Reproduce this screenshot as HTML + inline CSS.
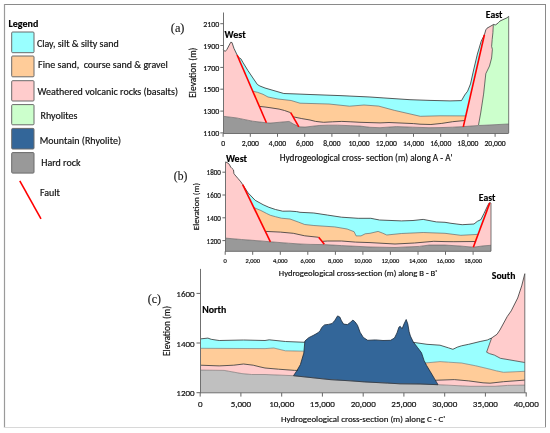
<!DOCTYPE html>
<html><head><meta charset="utf-8"><title>Hydrogeological cross-sections</title>
<style>
html,body{margin:0;padding:0;background:#fff;width:550px;height:433px;overflow:hidden}
svg{display:block}
text{font-family:Carlito,"Liberation Sans",sans-serif;fill:#111;stroke:#111;stroke-width:0.18px}
text.b{font-weight:bold;fill:#000;stroke:#000;stroke-width:0.15px}
text.s{font-family:"Liberation Serif","Times New Roman",serif;fill:#111;stroke:#111;stroke-width:0.12px}
</style></head>
<body>
<svg width="550" height="433" viewBox="0 0 550 433">
<rect width="550" height="433" fill="#fff"/>
<line x1="4" y1="4.5" x2="546" y2="4.5" stroke="#8a8a8a" stroke-width="1"/>
<line x1="4.5" y1="4" x2="4.5" y2="428" stroke="#9a9a9a" stroke-width="1.2"/>
<line x1="545.5" y1="4" x2="545.5" y2="427" stroke="#8a8a8a" stroke-width="1"/>
<line x1="4" y1="427.5" x2="546" y2="427.5" stroke="#d8d8d8" stroke-width="1"/>
<text x="8.6" y="27.1" class="b" font-size="10" textLength="29.67" lengthAdjust="spacingAndGlyphs">Legend</text>
<rect x="11.7" y="32" width="22.3" height="20.7" rx="1" fill="#99ffff" stroke="#6a6a6a" stroke-width="1"/>
<rect x="11.7" y="56" width="22.3" height="20.8" rx="1" fill="#ffcc99" stroke="#6a6a6a" stroke-width="1"/>
<rect x="11.7" y="80.7" width="22.3" height="20.3" rx="1" fill="#ffcccc" stroke="#6a6a6a" stroke-width="1"/>
<rect x="11.7" y="104.6" width="22.3" height="20.2" rx="1" fill="#ccffcc" stroke="#6a6a6a" stroke-width="1"/>
<rect x="11.7" y="128.4" width="22.3" height="20.6" rx="1" fill="#336699" stroke="#6a6a6a" stroke-width="1"/>
<rect x="11.7" y="152.6" width="22.3" height="20.5" rx="1" fill="#999999" stroke="#6a6a6a" stroke-width="1"/>
<text x="36.9" y="46.7" font-size="10" textLength="81.84" lengthAdjust="spacingAndGlyphs">Clay, silt &amp; silty sand</text>
<text x="38.1" y="67.7" font-size="10" textLength="129.61" lengthAdjust="spacingAndGlyphs">Fine sand,&#160; course sand &amp; gravel</text>
<text x="37.5" y="95.4" font-size="10" textLength="140.42" lengthAdjust="spacingAndGlyphs">Weathered volcanic rocks (basalts)</text>
<text x="40.6" y="118.7" font-size="10" textLength="36.91" lengthAdjust="spacingAndGlyphs">Rhyolites</text>
<text x="39.8" y="143.8" font-size="10" textLength="81.12" lengthAdjust="spacingAndGlyphs">Mountain (Rhyolite)</text>
<text x="41.2" y="165.6" font-size="10" textLength="39.27" lengthAdjust="spacingAndGlyphs">Hard rock</text>
<text x="39.9" y="195.6" font-size="10" textLength="20.02" lengthAdjust="spacingAndGlyphs">Fault</text>
<line x1="19.8" y1="180.8" x2="41" y2="218.9" stroke="#ff0000" stroke-width="1.6"/>
<polygon points="223.3,116.3 236.4,117.9 252.7,121.2 266.4,122.8 270,123.1 279.1,122.3 289.1,121.4 293.6,124.1 299.1,126.8 305,127.1 310,126.5 319.1,125.5 328.2,125.2 337.3,125.2 350.9,125.7 360,126.1 370,127.3 380,127.7 396.4,126.6 412.7,127.2 429,127.7 440,127.6 452.7,127.2 463.6,126.6 478.5,125.5 508.7,124 508.7,133.1 223.3,133.1" fill="#999999"/>
<polygon points="223.3,49.6 225.1,51.5 226.9,49.5 230.7,42.3 232,42.5 233.9,48.3 237.1,55 239,57.8 240.9,58.8 242.8,62.2 247.9,70.5 253,78.1 257.4,84.5 259.9,86 265,88 283.8,93.5 300,94.1 310,94.5 340,95.6 370,97 380,97.7 410,99.7 430,100.4 450,100.9 461.5,100.6 464.7,95 467.6,91.2 470.5,83.9 473.6,70 477.4,54 481.2,41.2 484.4,34.8 485.8,29.9 487,28.2 492.9,24.9 493.3,24.5 493.3,25.3 492.9,32.8 492.2,39.4 491.6,46.4 492.4,49.3 491.6,58 489.5,66 485.8,73.7 483.6,94.1 480.7,113 478.5,125 478.5,125.5 463.6,126.6 452.7,127.2 440,127.6 429,127.7 412.7,127.2 396.4,126.6 380,127.7 370,127.3 360,126.1 350.9,125.7 337.3,125.2 328.2,125.2 319.1,125.5 310,126.5 305,127.1 299.1,126.8 293.6,124.1 289.1,121.4 279.1,122.3 270,123.1 266.4,122.8 252.7,121.2 236.4,117.9 223.3,116.3" fill="#ffcccc"/>
<polygon points="493.3,24.5 495.4,24.9 497,23.9 498.7,22.4 499.9,21.1 504.1,19.1 507,17.8 508.7,16.3 508.7,124 478.5,125 478.5,125 480.7,113 483.6,94.1 485.8,73.7 489.5,66 491.6,58 492.4,49.3 491.6,46.4 492.2,39.4 492.9,32.8 493.3,25.3 493.3,24.5" fill="#ccffcc"/>
<polygon points="252.744,91.2 257.5,92.3 263,94.3 268,97 278,99 291.1,100.5 300,103.2 329,104 349.5,106.2 364,105 378.7,106.1 394.2,110.3 420.3,116.3 440,115.8 465.82,115.9 464.766,120.5 464.766,120.5 452.7,121.7 441.8,123.4 430.9,124.5 420,124.2 413.6,123.6 389,122.5 380,122.9 360,122.3 350.9,121.8 341.8,121.4 332.7,121.8 323.6,122.3 315.5,121.4 310,120 301.8,118.6 293.084,116.8 290.7,112.7 284.5,110.5 279.1,109.1 270,107.7 265,107 259.313,106.4" fill="#ffcc99"/>
<polygon points="237.964,57 232,42.5 239,57.8 240.9,58.8 242.8,62.2 247.9,70.5 253,78.1 257.4,84.5 259.9,86 265,88 283.8,93.5 300,94.1 310,94.5 340,95.6 370,97 380,97.7 410,99.7 430,100.4 450,100.9 461.5,100.6 464.7,95 467.6,91.2 470.5,83.9 473.6,70 477.4,54 481.2,41.2 483.896,37 465.82,115.9 440,115.8 420.3,116.3 394.2,110.3 378.7,106.1 364,105 349.5,106.2 329,104 300,103.2 291.1,100.5 278,99 268,97 263,94.3 257.5,92.3 252.744,91.2" fill="#99ffff"/>
<polyline points="223.3,49.6 225.1,51.5 226.9,49.5 230.7,42.3 232,42.5 233.9,48.3 237.1,55 239,57.8 240.9,58.8 242.8,62.2 247.9,70.5 253,78.1 257.4,84.5 259.9,86 265,88 283.8,93.5 300,94.1 310,94.5 340,95.6 370,97 380,97.7 410,99.7 430,100.4 450,100.9 461.5,100.6 464.7,95 467.6,91.2 470.5,83.9 473.6,70 477.4,54 481.2,41.2 484.4,34.8 485.8,29.9 487,28.2 492.9,24.9 493.3,24.5" fill="none" stroke="#333333" stroke-width="0.8"/>
<polyline points="493.3,24.5 495.4,24.9 497,23.9 498.7,22.4 499.9,21.1 504.1,19.1 507,17.8 508.7,16.3" fill="none" stroke="#333333" stroke-width="0.8"/>
<polyline points="493.3,24.5 493.3,25.3 492.9,32.8 492.2,39.4 491.6,46.4 492.4,49.3 491.6,58 489.5,66 485.8,73.7 483.6,94.1 480.7,113 478.5,125" fill="none" stroke="#333333" stroke-width="0.7"/>
<polyline points="252.744,91.2 257.5,92.3 263,94.3 268,97 278,99 291.1,100.5 300,103.2 329,104 349.5,106.2 364,105 378.7,106.1 394.2,110.3 420.3,116.3 440,115.8 465.82,115.9" fill="none" stroke="#555" stroke-width="0.6"/>
<polyline points="259.313,106.4 265,107 270,107.7 279.1,109.1 284.5,110.5 290.7,112.7" fill="none" stroke="#333333" stroke-width="0.8"/>
<polyline points="293.084,116.8 301.8,118.6 310,120 315.5,121.4 323.6,122.3 332.7,121.8 341.8,121.4 350.9,121.8 360,122.3 380,122.9 389,122.5 413.6,123.6 420,124.2 430.9,124.5 441.8,123.4 452.7,121.7 464.766,120.5" fill="none" stroke="#333333" stroke-width="0.8"/>
<polyline points="223.3,116.3 236.4,117.9 252.7,121.2 266.4,122.8 270,123.1 279.1,122.3 289.1,121.4 293.6,124.1 299.1,126.8 305,127.1 310,126.5 319.1,125.5 328.2,125.2 337.3,125.2 350.9,125.7 360,126.1 370,127.3 380,127.7 396.4,126.6 412.7,127.2 429,127.7 440,127.6 452.7,127.2 463.6,126.6 478.5,125.5 508.7,124" fill="none" stroke="#666" stroke-width="0.7"/>
<line x1="508.7" y1="16.3" x2="508.7" y2="133" stroke="#555" stroke-width="0.8"/>
<line x1="237.1" y1="55" x2="266.4" y2="122.8" stroke="#ff0000" stroke-width="1.6"/>
<line x1="290.7" y1="112.7" x2="298.9" y2="126.8" stroke="#ff0000" stroke-width="1.6"/>
<line x1="484.4" y1="34.8" x2="463.3" y2="126.9" stroke="#ff0000" stroke-width="1.6"/>
<line x1="223.5" y1="12.5" x2="223.5" y2="133.5" stroke="#707070" stroke-width="1"/>
<line x1="223" y1="133.5" x2="508.7" y2="133.5" stroke="#707070" stroke-width="1"/>
<line x1="220.3" y1="132.9" x2="223.5" y2="132.9" stroke="#666" stroke-width="1"/>
<text x="219.2" y="136.0" font-size="7.9" text-anchor="end" textLength="16.00" lengthAdjust="spacingAndGlyphs">1100</text>
<line x1="220.3" y1="111.1" x2="223.5" y2="111.1" stroke="#666" stroke-width="1"/>
<text x="219.2" y="114.2" font-size="7.9" text-anchor="end" textLength="16.00" lengthAdjust="spacingAndGlyphs">1300</text>
<line x1="220.3" y1="89.2" x2="223.5" y2="89.2" stroke="#666" stroke-width="1"/>
<text x="219.2" y="92.3" font-size="7.9" text-anchor="end" textLength="16.00" lengthAdjust="spacingAndGlyphs">1500</text>
<line x1="220.3" y1="67.4" x2="223.5" y2="67.4" stroke="#666" stroke-width="1"/>
<text x="219.2" y="70.5" font-size="7.9" text-anchor="end" textLength="16.00" lengthAdjust="spacingAndGlyphs">1700</text>
<line x1="220.3" y1="45.5" x2="223.5" y2="45.5" stroke="#666" stroke-width="1"/>
<text x="219.2" y="48.6" font-size="7.9" text-anchor="end" textLength="16.00" lengthAdjust="spacingAndGlyphs">1900</text>
<line x1="220.3" y1="23.7" x2="223.5" y2="23.7" stroke="#666" stroke-width="1"/>
<text x="219.2" y="26.8" font-size="7.9" text-anchor="end" textLength="16.00" lengthAdjust="spacingAndGlyphs">2100</text>
<line x1="223.1" y1="133.5" x2="223.1" y2="136.8" stroke="#666" stroke-width="1"/>
<text x="223.1" y="145.6" font-size="7.6" text-anchor="middle" textLength="3.86" lengthAdjust="spacingAndGlyphs">0</text>
<line x1="250.3" y1="133.5" x2="250.3" y2="136.8" stroke="#666" stroke-width="1"/>
<text x="250.3" y="145.6" font-size="7.6" text-anchor="middle" textLength="17.30" lengthAdjust="spacingAndGlyphs">2,000</text>
<line x1="277.5" y1="133.5" x2="277.5" y2="136.8" stroke="#666" stroke-width="1"/>
<text x="277.5" y="145.6" font-size="7.6" text-anchor="middle" textLength="17.30" lengthAdjust="spacingAndGlyphs">4,000</text>
<line x1="304.7" y1="133.5" x2="304.7" y2="136.8" stroke="#666" stroke-width="1"/>
<text x="304.7" y="145.6" font-size="7.6" text-anchor="middle" textLength="17.30" lengthAdjust="spacingAndGlyphs">6,000</text>
<line x1="331.9" y1="133.5" x2="331.9" y2="136.8" stroke="#666" stroke-width="1"/>
<text x="331.9" y="145.6" font-size="7.6" text-anchor="middle" textLength="17.30" lengthAdjust="spacingAndGlyphs">8,000</text>
<line x1="359.1" y1="133.5" x2="359.1" y2="136.8" stroke="#666" stroke-width="1"/>
<text x="359.1" y="145.6" font-size="7.6" text-anchor="middle" textLength="21.14" lengthAdjust="spacingAndGlyphs">10,000</text>
<line x1="386.3" y1="133.5" x2="386.3" y2="136.8" stroke="#666" stroke-width="1"/>
<text x="386.3" y="145.6" font-size="7.6" text-anchor="middle" textLength="21.14" lengthAdjust="spacingAndGlyphs">12,000</text>
<line x1="413.5" y1="133.5" x2="413.5" y2="136.8" stroke="#666" stroke-width="1"/>
<text x="413.5" y="145.6" font-size="7.6" text-anchor="middle" textLength="21.14" lengthAdjust="spacingAndGlyphs">14,000</text>
<line x1="440.7" y1="133.5" x2="440.7" y2="136.8" stroke="#666" stroke-width="1"/>
<text x="440.7" y="145.6" font-size="7.6" text-anchor="middle" textLength="21.14" lengthAdjust="spacingAndGlyphs">16,000</text>
<line x1="467.9" y1="133.5" x2="467.9" y2="136.8" stroke="#666" stroke-width="1"/>
<text x="467.9" y="145.6" font-size="7.6" text-anchor="middle" textLength="21.14" lengthAdjust="spacingAndGlyphs">18,000</text>
<line x1="495.1" y1="133.5" x2="495.1" y2="136.8" stroke="#666" stroke-width="1"/>
<text x="495.1" y="145.6" font-size="7.6" text-anchor="middle" textLength="21.14" lengthAdjust="spacingAndGlyphs">20,000</text>
<text x="279.8" y="161.4" font-size="9.24" textLength="172.81" lengthAdjust="spacingAndGlyphs">Hydrogeological cross- section (m) along A - A'</text>
<text transform="translate(195.8,97.7) rotate(-90)" font-size="9.37" textLength="50.16" lengthAdjust="spacingAndGlyphs">Elevation (m)</text>
<text x="170.8" y="31.8" class="s" font-size="12.3" textLength="13.66" lengthAdjust="spacingAndGlyphs">(a)</text>
<text x="224.6" y="37.7" class="b" font-size="10" textLength="21.09" lengthAdjust="spacingAndGlyphs">West</text>
<text x="485.8" y="17.6" class="b" font-size="9.7" textLength="16.50" lengthAdjust="spacingAndGlyphs">East</text>
<polygon points="225.2,238.1 241.6,239.5 260,240.9 270.4,241.8 288.5,243.2 300,244 310,244.4 324.3,244.6 341.6,245.6 370,247 395,247.5 419.3,246.4 429,245.1 445,245.1 460,246 473.3,247.2 484,245.8 491,245.3 491,251.2 225.2,251.2" fill="#999999"/>
<polygon points="225.2,162 227,162.5 229.3,164.3 230.7,167.1 232.1,168.5 233.5,169.9 233.9,173.5 234.9,174.9 238.1,178.6 240.9,181.9 242.7,184.6 248.1,192.9 255.2,200.3 263.1,204.7 268.9,207.3 275.5,209.5 282.7,211.2 290,211.1 296.6,211.6 300,212.3 313.9,213 327.7,215.1 341.6,217.2 358.2,218.3 370.8,218.3 379.5,220 401.4,220.9 413,220.5 423.2,219.4 436.3,221.9 445,222.3 451,223.3 462.2,224.7 474,224 477.4,221.3 480.9,219.6 484,213.4 487.9,205.2 489.2,203 490.4,202.6 491,203.6 491,245.3 484,245.8 473.3,247.2 460,246 445,245.1 429,245.1 419.3,246.4 395,247.5 370,247 341.6,245.6 324.3,244.6 310,244.4 300,244 288.5,243.2 270.4,241.8 260,240.9 241.6,239.5 225.2,238.1" fill="#ffcccc"/>
<polygon points="253.838,207.6 260.9,210.5 266.7,213.5 270.4,215.3 275.5,216.7 281.3,218.2 290,219 298.2,222 304.7,224.5 313.9,225.5 334.7,226.9 347.1,229 354.1,231.7 356.1,235.9 361,235.9 365.2,233.8 370,233.3 378.1,231.4 382.5,233.1 386.8,235 401.4,233.5 423.2,232.5 445,233.3 460.8,235.3 477.4,234.4 478.067,234.4 475.423,241.5 453.9,241.7 445,241.6 433.8,241.3 414.4,243 395,244 370,242.6 355.4,242.1 341.6,241 327.7,241 322.028,241.4 318.7,237.3 318.7,237.3 304.7,235.8 293.3,233.3 280.4,232.1 265.364,231.4" fill="#ffcc99"/>
<polygon points="242.7,184.6 248.1,192.9 255.2,200.3 263.1,204.7 268.9,207.3 275.5,209.5 282.7,211.2 290,211.1 296.6,211.6 300,212.3 313.9,213 327.7,215.1 341.6,217.2 358.2,218.3 370.8,218.3 379.5,220 401.4,220.9 413,220.5 423.2,219.4 436.3,221.9 445,222.3 451,223.3 462.2,224.7 474,224 477.4,221.3 480.9,219.6 484,213.4 487.9,205.2 489.2,203 489.8,202.9 478.067,234.4 477.4,234.4 460.8,235.3 445,233.3 423.2,232.5 401.4,233.5 386.8,235 382.5,233.1 378.1,231.4 370,233.3 365.2,233.8 361,235.9 356.1,235.9 354.1,231.7 347.1,229 334.7,226.9 313.9,225.5 304.7,224.5 298.2,222 290,219 281.3,218.2 275.5,216.7 270.4,215.3 266.7,213.5 260.9,210.5 253.838,207.6" fill="#99ffff"/>
<polyline points="225.2,162 227,162.5 229.3,164.3 230.7,167.1 232.1,168.5 233.5,169.9 233.9,173.5 234.9,174.9 238.1,178.6 240.9,181.9 242.7,184.6 248.1,192.9 255.2,200.3 263.1,204.7 268.9,207.3 275.5,209.5 282.7,211.2 290,211.1 296.6,211.6 300,212.3 313.9,213 327.7,215.1 341.6,217.2 358.2,218.3 370.8,218.3 379.5,220 401.4,220.9 413,220.5 423.2,219.4 436.3,221.9 445,222.3 451,223.3 462.2,224.7 474,224 477.4,221.3 480.9,219.6 484,213.4 487.9,205.2 489.2,203 490.4,202.6 491,203.6" fill="none" stroke="#333333" stroke-width="0.8"/>
<polyline points="253.838,207.6 260.9,210.5 266.7,213.5 270.4,215.3 275.5,216.7 281.3,218.2 290,219 298.2,222 304.7,224.5 313.9,225.5 334.7,226.9 347.1,229 354.1,231.7 356.1,235.9 361,235.9 365.2,233.8 370,233.3 378.1,231.4 382.5,233.1 386.8,235 401.4,233.5 423.2,232.5 445,233.3 460.8,235.3 477.4,234.4 478.067,234.4" fill="none" stroke="#555" stroke-width="0.6"/>
<polyline points="265.364,231.4 280.4,232.1 293.3,233.3 304.7,235.8 318.7,237.3" fill="none" stroke="#333333" stroke-width="0.8"/>
<polyline points="322.028,241.4 327.7,241 341.6,241 355.4,242.1 370,242.6 395,244 414.4,243 433.8,241.3 445,241.6 453.9,241.7 475.423,241.5" fill="none" stroke="#333333" stroke-width="0.8"/>
<polyline points="225.2,238.1 241.6,239.5 260,240.9 270.4,241.8 288.5,243.2 300,244 310,244.4 324.3,244.6 341.6,245.6 370,247 395,247.5 419.3,246.4 429,245.1 445,245.1 460,246 473.3,247.2 484,245.8 491,245.3" fill="none" stroke="#666" stroke-width="0.7"/>
<line x1="491" y1="203.6" x2="491" y2="251.2" stroke="#555" stroke-width="0.8"/>
<line x1="242.7" y1="184.6" x2="270.4" y2="241.8" stroke="#ff0000" stroke-width="1.6"/>
<line x1="318.7" y1="237.3" x2="324.3" y2="244.2" stroke="#ff0000" stroke-width="1.6"/>
<line x1="489.8" y1="202.9" x2="473.3" y2="247.2" stroke="#ff0000" stroke-width="1.6"/>
<line x1="225.5" y1="162" x2="225.5" y2="251.8" stroke="#707070" stroke-width="1"/>
<line x1="225" y1="251.3" x2="491" y2="251.3" stroke="#707070" stroke-width="1"/>
<line x1="222.4" y1="240.6" x2="225.5" y2="240.6" stroke="#666" stroke-width="1"/>
<text x="220.8" y="243.5" font-size="7" text-anchor="end" textLength="14.20" lengthAdjust="spacingAndGlyphs">1200</text>
<line x1="222.4" y1="217.8" x2="225.5" y2="217.8" stroke="#666" stroke-width="1"/>
<text x="220.8" y="220.7" font-size="7" text-anchor="end" textLength="14.20" lengthAdjust="spacingAndGlyphs">1400</text>
<line x1="222.4" y1="195.0" x2="225.5" y2="195.0" stroke="#666" stroke-width="1"/>
<text x="220.8" y="197.9" font-size="7" text-anchor="end" textLength="14.20" lengthAdjust="spacingAndGlyphs">1600</text>
<line x1="222.4" y1="172.2" x2="225.5" y2="172.2" stroke="#666" stroke-width="1"/>
<text x="220.8" y="175.1" font-size="7" text-anchor="end" textLength="14.20" lengthAdjust="spacingAndGlyphs">1800</text>
<line x1="225.2" y1="251.3" x2="225.2" y2="254.8" stroke="#666" stroke-width="1"/>
<text x="225.2" y="262.7" font-size="6.4" text-anchor="middle" textLength="3.25" lengthAdjust="spacingAndGlyphs">0</text>
<line x1="252.7" y1="251.3" x2="252.7" y2="254.8" stroke="#666" stroke-width="1"/>
<text x="252.7" y="262.7" font-size="6.4" text-anchor="middle" textLength="14.56" lengthAdjust="spacingAndGlyphs">2,000</text>
<line x1="280.3" y1="251.3" x2="280.3" y2="254.8" stroke="#666" stroke-width="1"/>
<text x="280.3" y="262.7" font-size="6.4" text-anchor="middle" textLength="14.56" lengthAdjust="spacingAndGlyphs">4,000</text>
<line x1="307.8" y1="251.3" x2="307.8" y2="254.8" stroke="#666" stroke-width="1"/>
<text x="307.8" y="262.7" font-size="6.4" text-anchor="middle" textLength="14.56" lengthAdjust="spacingAndGlyphs">6,000</text>
<line x1="335.4" y1="251.3" x2="335.4" y2="254.8" stroke="#666" stroke-width="1"/>
<text x="335.4" y="262.7" font-size="6.4" text-anchor="middle" textLength="14.56" lengthAdjust="spacingAndGlyphs">8,000</text>
<line x1="362.9" y1="251.3" x2="362.9" y2="254.8" stroke="#666" stroke-width="1"/>
<text x="362.9" y="262.7" font-size="6.4" text-anchor="middle" textLength="17.80" lengthAdjust="spacingAndGlyphs">10,000</text>
<line x1="390.4" y1="251.3" x2="390.4" y2="254.8" stroke="#666" stroke-width="1"/>
<text x="390.4" y="262.7" font-size="6.4" text-anchor="middle" textLength="17.80" lengthAdjust="spacingAndGlyphs">12,000</text>
<line x1="418.0" y1="251.3" x2="418.0" y2="254.8" stroke="#666" stroke-width="1"/>
<text x="418.0" y="262.7" font-size="6.4" text-anchor="middle" textLength="17.80" lengthAdjust="spacingAndGlyphs">14,000</text>
<line x1="445.5" y1="251.3" x2="445.5" y2="254.8" stroke="#666" stroke-width="1"/>
<text x="445.5" y="262.7" font-size="6.4" text-anchor="middle" textLength="17.80" lengthAdjust="spacingAndGlyphs">16,000</text>
<line x1="473.1" y1="251.3" x2="473.1" y2="254.8" stroke="#666" stroke-width="1"/>
<text x="473.1" y="262.7" font-size="6.4" text-anchor="middle" textLength="17.80" lengthAdjust="spacingAndGlyphs">18,000</text>
<text x="278.8" y="276.4" font-size="8.6" textLength="158.28" lengthAdjust="spacingAndGlyphs">Hydrogeological cross-section (m) along B - B'</text>
<text transform="translate(199.3,230.2) rotate(-90)" font-size="8.87" textLength="47.48" lengthAdjust="spacingAndGlyphs">Elevation (m)</text>
<text x="173.8" y="179.7" class="s" font-size="11.6" textLength="13.53" lengthAdjust="spacingAndGlyphs">(b)</text>
<text x="225.9" y="161.8" class="b" font-size="10" textLength="21.09" lengthAdjust="spacingAndGlyphs">West</text>
<text x="478.8" y="200.8" class="b" font-size="9.7" textLength="16.50" lengthAdjust="spacingAndGlyphs">East</text>
<polygon points="200.3,370.1 224.1,370.4 241.9,373.6 251.6,374.5 265,374.5 293.5,375.7 330,379.6 350,380.8 364.6,381.9 387.7,383.1 400,383.8 420,384 438,384.7 462.4,385.9 470,386.3 495,386.3 507.7,385.4 524.8,385.1 524.8,392.7 200.3,392.7" fill="#c0c0c0"/>
<polygon points="200.3,365.2 219.2,365.9 233.8,365.2 243.5,364 253.2,365.2 260,366.9 265,368 278.5,369.2 294.6,370.4 298,370.4 298,372 293.5,375.7 293.5,375.7 265,374.5 251.6,374.5 241.9,373.6 224.1,370.4 200.3,370.1" fill="#ffcccc"/>
<polygon points="435.4,380.3 440,380.1 454.3,379.6 468.7,380.9 483,382.8 490,383.2 503.5,381.7 524.8,380.1 524.8,385.1 524.8,385.1 507.7,385.4 495,386.3 470,386.3 462.4,385.9 438,384.7" fill="#ffcccc"/>
<polygon points="200.3,348.3 265,348.6 273.8,348 285.4,350.8 303.8,351.2 305,360 300,370.4 298,370.4 294.6,370.4 278.5,369.2 265,368 260,366.9 253.2,365.2 243.5,364 233.8,365.2 219.2,365.9 200.3,365.2" fill="#ffcc99"/>
<polygon points="423,362 425,363 425,363 440,361.6 448.6,362.2 461.5,363 475.8,365.8 490,369.2 496.2,370.8 503.5,372.3 524.8,371.3 524.8,380.1 503.5,381.7 490,383.2 483,382.8 468.7,380.9 454.3,379.6 440,380.1 435.4,380.3 434,379" fill="#ffcc99"/>
<polygon points="200.3,338.9 207.9,338.1 211.2,339.3 219.2,340.5 243.5,340 265,340.5 269.2,339.8 285.4,341.5 304.9,342.3 304,352 303.8,351.2 285.4,350.8 273.8,348 265,348.6 200.3,348.3" fill="#99ffff"/>
<polygon points="412.9,342.3 427,344.3 440,345.2 448.6,347.9 452.9,349.3 457.2,347.2 461.5,345.8 468.7,344.3 480.1,341.5 487.3,340 491.6,338 486.6,352.2 489.4,353.6 494.4,355.1 500.4,358.3 524.8,362.5 524.8,371.3 503.5,372.3 496.2,370.8 490,369.2 475.8,365.8 461.5,363 448.6,362.2 440,361.6 425,363 421,353" fill="#99ffff"/>
<polygon points="524.8,273.7 521.7,285.9 517.7,298 511.2,310.9 507.2,316.6 499.9,330 497,334.3 491.6,338 486.6,352.2 489.4,353.6 494.4,355.1 500.4,358.3 524.8,362.5" fill="#ffcccc"/>
<polygon points="293.5,375.7 297,370.5 300.4,364.6 303.8,353.1 304.9,341 308.7,337.7 313.1,335.5 318,332.8 320.2,330.6 321.8,327.4 324.5,324.9 328.4,324.4 332.2,323.5 334.9,320.3 337.6,315.9 339.8,317 341.5,320.8 343.6,324.1 347.5,324.6 350.2,322.5 352.9,320.1 355.1,321.9 357.5,325.3 360.1,332.3 363.3,337.4 367.7,340.3 375.4,339.9 383,340.5 390.6,340.3 394.5,338 397,332.9 398.9,327.2 400.2,326.3 402.1,328.8 404,324 406.2,319.5 407.8,324 409.1,331.6 410.4,336 413.3,342 417.7,347.7 421.5,352.8 424,360.4 426.6,365.5 430.4,371.8 434.2,378.2 438,384.7 438,384.7 420,384 400,383.8 387.7,383.1 364.6,381.9 350,380.8 330,379.6 293.5,375.7" fill="#336699"/>
<polyline points="200.3,338.9 207.9,338.1 211.2,339.3 219.2,340.5 243.5,340 265,340.5 269.2,339.8 285.4,341.5 304.9,342.3" fill="none" stroke="#333333" stroke-width="0.8"/>
<polyline points="412.9,342.3 427,344.3 440,345.2 448.6,347.9 452.9,349.3 457.2,347.2 461.5,345.8 468.7,344.3 480.1,341.5 487.3,340 491.6,338" fill="none" stroke="#333333" stroke-width="0.8"/>
<polyline points="200.3,365.2 219.2,365.9 233.8,365.2 243.5,364 253.2,365.2 260,366.9 265,368 278.5,369.2 294.6,370.4 298,370.4" fill="none" stroke="#333333" stroke-width="0.8"/>
<polyline points="435.4,380.3 440,380.1 454.3,379.6 468.7,380.9 483,382.8 490,383.2 503.5,381.7 524.8,380.1" fill="none" stroke="#333333" stroke-width="0.8"/>
<polyline points="200.3,348.3 265,348.6 273.8,348 285.4,350.8 303.8,351.2" fill="none" stroke="#666" stroke-width="0.6"/>
<polyline points="425,363 440,361.6 448.6,362.2 461.5,363 475.8,365.8 490,369.2 496.2,370.8 503.5,372.3 524.8,371.3" fill="none" stroke="#666" stroke-width="0.6"/>
<polyline points="200.3,370.1 224.1,370.4 241.9,373.6 251.6,374.5 265,374.5 293.5,375.7 330,379.6 350,380.8 364.6,381.9 387.7,383.1 400,383.8 420,384 438,384.7 462.4,385.9 470,386.3 495,386.3 507.7,385.4 524.8,385.1" fill="none" stroke="#666" stroke-width="0.6"/>
<polyline points="293.5,375.7 297,370.5 300.4,364.6 303.8,353.1 304.9,341 308.7,337.7 313.1,335.5 318,332.8 320.2,330.6 321.8,327.4 324.5,324.9 328.4,324.4 332.2,323.5 334.9,320.3 337.6,315.9 339.8,317 341.5,320.8 343.6,324.1 347.5,324.6 350.2,322.5 352.9,320.1 355.1,321.9 357.5,325.3 360.1,332.3 363.3,337.4 367.7,340.3 375.4,339.9 383,340.5 390.6,340.3 394.5,338 397,332.9 398.9,327.2 400.2,326.3 402.1,328.8 404,324 406.2,319.5 407.8,324 409.1,331.6 410.4,336 413.3,342 417.7,347.7 421.5,352.8 424,360.4 426.6,365.5 430.4,371.8 434.2,378.2 438,384.7" fill="none" stroke="#1a2a3a" stroke-width="0.8"/>
<polyline points="293.5,375.7 330,379.6 350,380.8 364.6,381.9 387.7,383.1 400,383.8 420,384 438,384.7" fill="none" stroke="#2a3440" stroke-width="0.8"/>
<polyline points="524.8,273.7 521.7,285.9 517.7,298 511.2,310.9 507.2,316.6 499.9,330 497,334.3 491.6,338" fill="none" stroke="#333333" stroke-width="0.8"/>
<polyline points="491.6,338 486.6,352.2 489.4,353.6 494.4,355.1 500.4,358.3 524.8,362.5" fill="none" stroke="#333333" stroke-width="0.7"/>
<line x1="524.8" y1="273.7" x2="524.8" y2="392.7" stroke="#555" stroke-width="0.8"/>
<line x1="200.5" y1="268.9" x2="200.5" y2="393" stroke="#707070" stroke-width="1"/>
<line x1="200" y1="392.8" x2="526.7" y2="392.8" stroke="#707070" stroke-width="1"/>
<line x1="196.5" y1="392.7" x2="200.5" y2="392.7" stroke="#666" stroke-width="1"/>
<text x="194.6" y="396.2" font-size="9" text-anchor="end" textLength="18.25" lengthAdjust="spacingAndGlyphs">1200</text>
<line x1="196.5" y1="343.0" x2="200.5" y2="343.0" stroke="#666" stroke-width="1"/>
<text x="194.6" y="346.5" font-size="9" text-anchor="end" textLength="18.25" lengthAdjust="spacingAndGlyphs">1400</text>
<line x1="196.5" y1="293.4" x2="200.5" y2="293.4" stroke="#666" stroke-width="1"/>
<text x="194.6" y="296.9" font-size="9" text-anchor="end" textLength="18.25" lengthAdjust="spacingAndGlyphs">1600</text>
<line x1="200.2" y1="392.8" x2="200.2" y2="396.6" stroke="#666" stroke-width="1"/>
<text x="200.2" y="406.6" font-size="9" text-anchor="middle" textLength="4.56" lengthAdjust="spacingAndGlyphs">0</text>
<line x1="240.9" y1="392.8" x2="240.9" y2="396.6" stroke="#666" stroke-width="1"/>
<text x="240.9" y="406.6" font-size="9" text-anchor="middle" textLength="20.50" lengthAdjust="spacingAndGlyphs">5,000</text>
<line x1="281.7" y1="392.8" x2="281.7" y2="396.6" stroke="#666" stroke-width="1"/>
<text x="281.7" y="406.6" font-size="9" text-anchor="middle" textLength="25.06" lengthAdjust="spacingAndGlyphs">10,000</text>
<line x1="322.4" y1="392.8" x2="322.4" y2="396.6" stroke="#666" stroke-width="1"/>
<text x="322.4" y="406.6" font-size="9" text-anchor="middle" textLength="25.06" lengthAdjust="spacingAndGlyphs">15,000</text>
<line x1="363.2" y1="392.8" x2="363.2" y2="396.6" stroke="#666" stroke-width="1"/>
<text x="363.2" y="406.6" font-size="9" text-anchor="middle" textLength="25.06" lengthAdjust="spacingAndGlyphs">20,000</text>
<line x1="403.9" y1="392.8" x2="403.9" y2="396.6" stroke="#666" stroke-width="1"/>
<text x="403.9" y="406.6" font-size="9" text-anchor="middle" textLength="25.06" lengthAdjust="spacingAndGlyphs">25,000</text>
<line x1="444.7" y1="392.8" x2="444.7" y2="396.6" stroke="#666" stroke-width="1"/>
<text x="444.7" y="406.6" font-size="9" text-anchor="middle" textLength="25.06" lengthAdjust="spacingAndGlyphs">30,000</text>
<line x1="485.4" y1="392.8" x2="485.4" y2="396.6" stroke="#666" stroke-width="1"/>
<text x="485.4" y="406.6" font-size="9" text-anchor="middle" textLength="25.06" lengthAdjust="spacingAndGlyphs">35,000</text>
<line x1="526.2" y1="392.8" x2="526.2" y2="396.6" stroke="#666" stroke-width="1"/>
<text x="526.2" y="406.6" font-size="9" text-anchor="middle" textLength="25.06" lengthAdjust="spacingAndGlyphs">40,000</text>
<text x="281" y="422" font-size="8.93" textLength="164.14" lengthAdjust="spacingAndGlyphs">Hydrogeological cross-section (m) along C - C'</text>
<text transform="translate(170.3,356) rotate(-90)" font-size="9.37" textLength="50.16" lengthAdjust="spacingAndGlyphs">Elevation (m)</text>
<text x="147.8" y="302.7" class="s" font-size="11.9" textLength="13.20" lengthAdjust="spacingAndGlyphs">(c)</text>
<text x="202.3" y="312.6" class="b" font-size="9.9" textLength="24.05" lengthAdjust="spacingAndGlyphs">North</text>
<text x="491.8" y="278.6" class="b" font-size="9.7" textLength="23.55" lengthAdjust="spacingAndGlyphs">South</text>
</svg>
</body></html>
